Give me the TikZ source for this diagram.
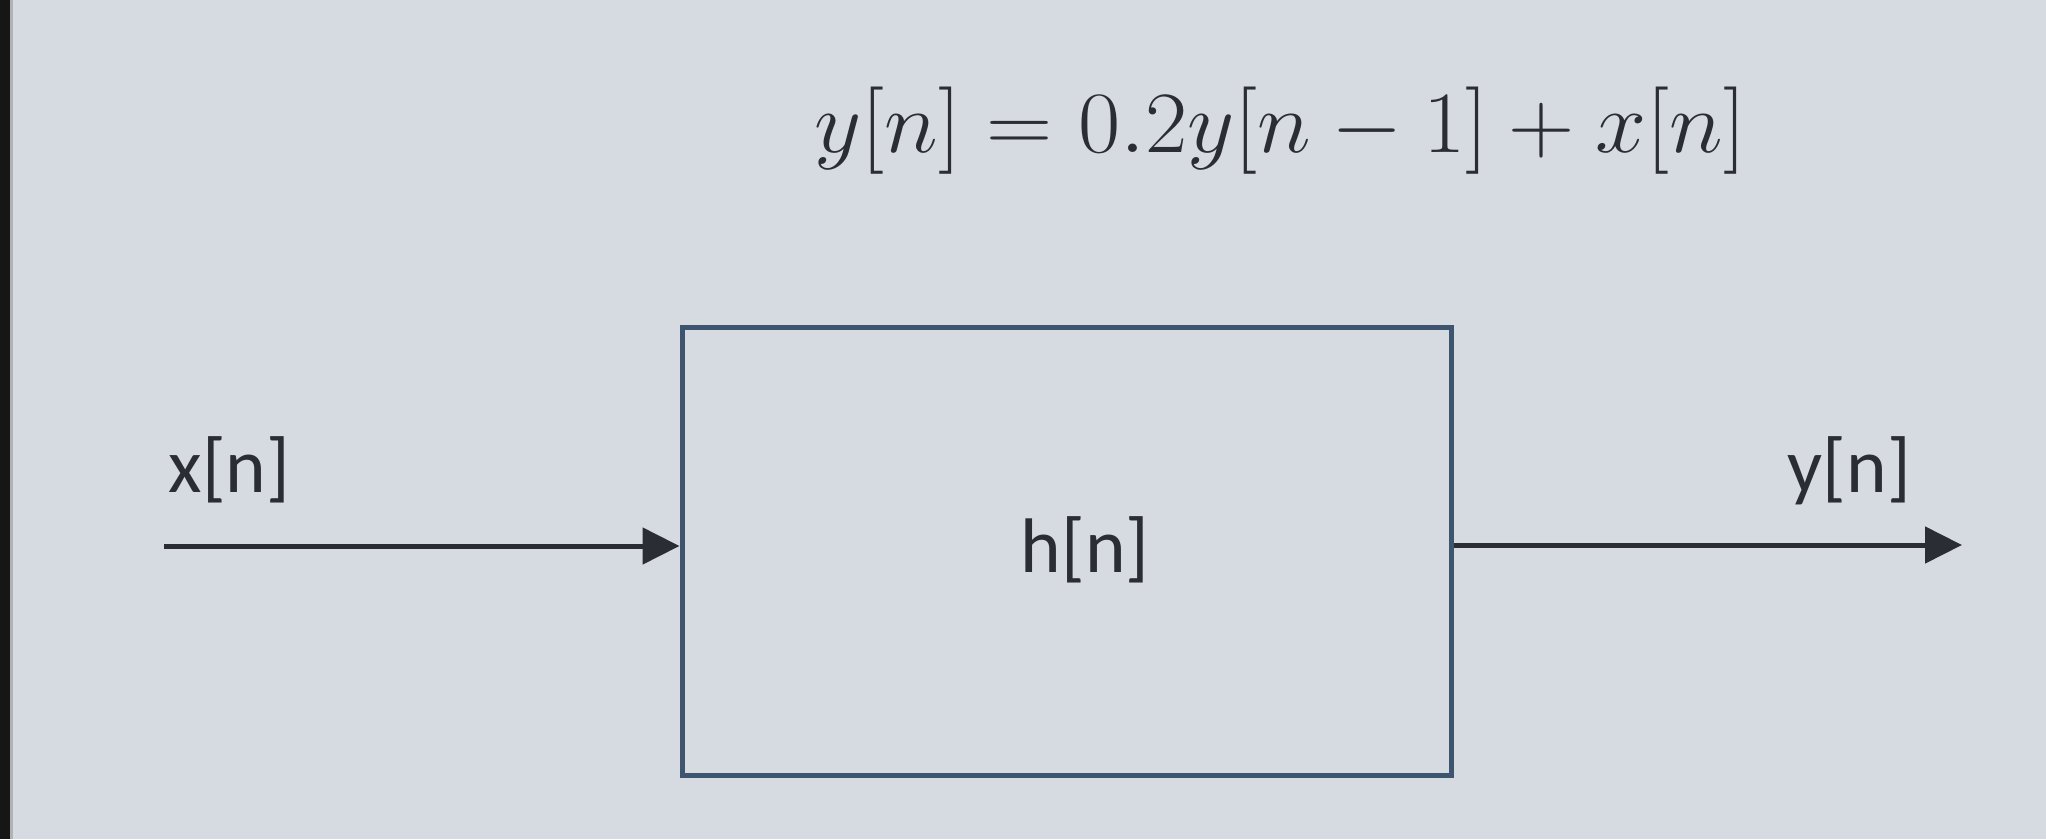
\documentclass[tikz,border=0pt]{standalone}
\usepackage{fontspec}
\setmainfont{Carlito}
\usetikzlibrary{arrows.meta}
\definecolor{paper}{HTML}{D6DAE1}
\definecolor{ink}{HTML}{2A2D33}
\definecolor{boxline}{HTML}{3E5570}
\definecolor{edge}{HTML}{161616}
\tikzset{
  sysbox/.style={draw=boxline, line width=0.05cm, minimum width=7.69cm, minimum height=4.48cm, inner sep=0pt},
  lbl/.style={text=ink, font=\fontsize{22}{26}\selectfont, inner sep=0pt, anchor=base west},
  sig/.style={draw=ink, line width=0.05cm, -{Triangle[length=0.37cm,width=0.36cm]}}
}
\begin{document}
\begin{tikzpicture}
\useasboundingbox (0,0) rectangle (20.46,8.39);
\fill[paper] (0,0) rectangle (20.46,8.39);
\fill[edge] (0,0) rectangle (0.10,8.39);
\fill[gray!60] (0.10,0) rectangle (0.13,8.39);
\node[sysbox] (box) at (10.665,2.88) {};
\node[lbl, anchor=base] (h) at (10.85,2.67) {h[n]};
\node[lbl] (xl) at (1.68,3.47) {x[n]};
\node[lbl] (yl) at (17.87,3.47) {y[n]};
\node[inner sep=0pt, anchor=base west, text=ink, xscale=1.05, font=\fontsize{25}{30}\selectfont] (eq) at (8.14,6.87) {$y[n] = 0.2y[n-1] + x[n]$};
\coordinate (xin) at (1.64,2.93);
\coordinate (yout) at (19.62,2.94);
\draw[sig] (xin) -- (xin -| box.west);
\draw[sig] (yout -| box.east) -- (yout);
\end{tikzpicture}
\end{document}
